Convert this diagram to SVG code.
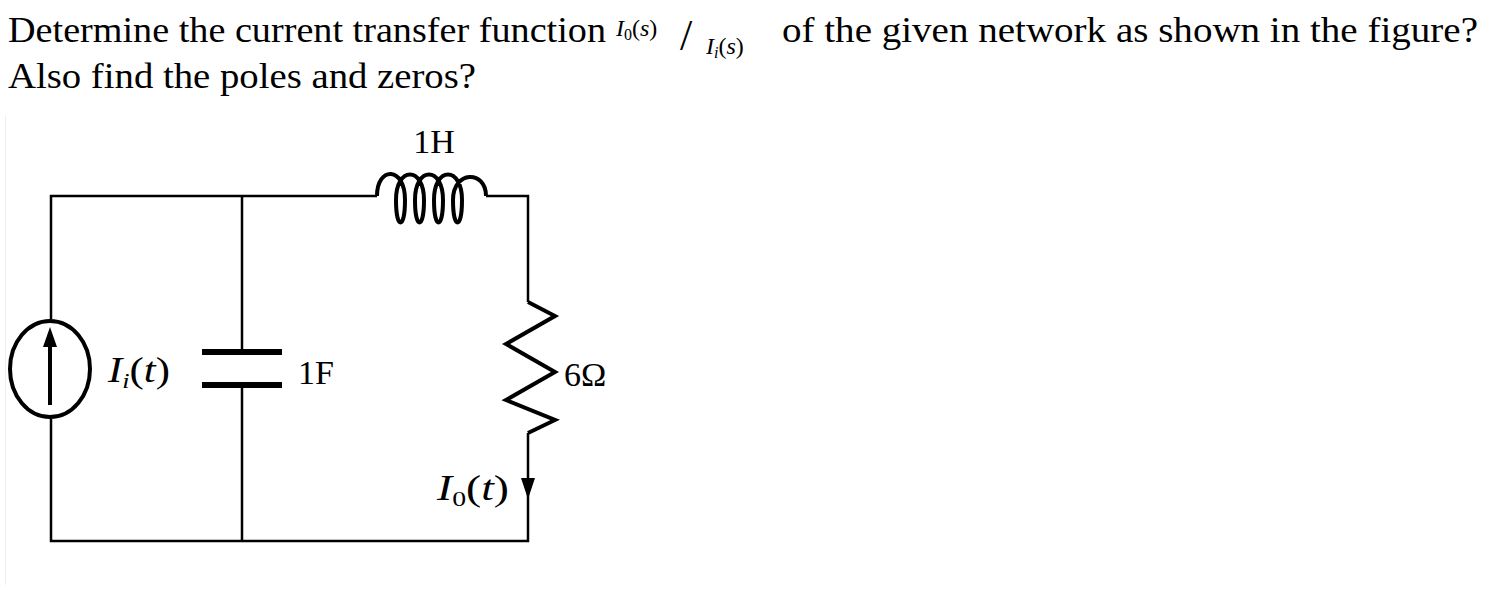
<svg xmlns="http://www.w3.org/2000/svg" width="1496" height="590" viewBox="0 0 1496 590">
<style>
.t{font-family:"Liberation Serif",serif;fill:#000}
.w{stroke:#000;stroke-width:2.5;fill:none}
.th{stroke:#000;stroke-width:4;fill:none}
</style>
<rect width="1496" height="590" fill="#fff"/>
<text class="t" x="8" y="42" font-size="36" textLength="598" lengthAdjust="spacingAndGlyphs">Determine the current transfer function</text>
<text class="t" x="616" y="36" font-size="24" font-style="italic">I<tspan font-size="16" font-style="normal" dy="4">0</tspan><tspan dy="-4" font-style="normal">(</tspan>s<tspan font-style="normal">)</tspan></text>
<text class="t" x="680" y="50" font-size="44">/</text>
<text class="t" x="706" y="54" font-size="24" font-style="italic">I<tspan font-size="16" dy="4">i</tspan><tspan dy="-4" font-style="normal">(</tspan>s<tspan font-style="normal">)</tspan></text>
<text class="t" x="782" y="42" font-size="36" textLength="696" lengthAdjust="spacingAndGlyphs">of the given network as shown in the figure?</text>
<text class="t" x="8" y="88" font-size="36" textLength="468" lengthAdjust="spacingAndGlyphs">Also find the poles and zeros?</text>
<line x1="5.5" y1="115" x2="5.5" y2="585" stroke="#eee" stroke-width="1"/>
<g id="connectors">
<path class="w" d="M51,319 V196 H377 M486,196 H528 V302 M51,419 V541 H528 V433 M242,196 V352 M242,385 V541"/>
<path d="M521,478 L535,478 L528,499 Z" fill="#000"/>
</g>
<g id="source">
<ellipse cx="50" cy="369" rx="40" ry="48" class="th"/>
<line x1="50" y1="405" x2="50" y2="345" stroke="#000" stroke-width="4"/>
<path d="M43,347 L50,327 L57,347 Z" fill="#000"/>
<text class="t" x="108" y="382" font-size="36" font-style="italic" textLength="62" lengthAdjust="spacingAndGlyphs">I<tspan font-size="22" dy="6">i</tspan><tspan dy="-6" font-style="normal">(</tspan>t<tspan font-style="normal">)</tspan></text>
</g>
<g id="capacitor">
<line x1="202" y1="352" x2="282" y2="352" stroke="#000" stroke-width="6"/>
<line x1="202" y1="385" x2="282" y2="385" stroke="#000" stroke-width="6"/>
<text class="t" x="298" y="384" font-size="34">1F</text>
</g>
<g id="inductor">
<path class="th" d="M377,196 C377,166 405,166 405,200 C405,230 396,230 396,200 C396,166 424,166 424,200 C424,230 415,230 415,200 C415,166 443,166 443,200 C443,230 434,230 434,200 C434,166 462,166 462,200 C462,230 453,230 453,200 C453,170 486,170 486,196"/>
<text class="t" x="434" y="153" font-size="34" text-anchor="middle">1H</text>
</g>
<g id="resistor">
<path class="th" d="M528,302 L555,316 L506,344 L555,372 L506,400 L555,420 L528,433"/>
<text class="t" x="564" y="386" font-size="34">6Ω</text>
</g>
<text class="t" x="437" y="500" font-size="36" font-style="italic" textLength="72" lengthAdjust="spacingAndGlyphs">I<tspan font-size="22" font-style="normal" dy="6">0</tspan><tspan dy="-6" font-style="normal">(</tspan>t<tspan font-style="normal">)</tspan></text>
</svg>
